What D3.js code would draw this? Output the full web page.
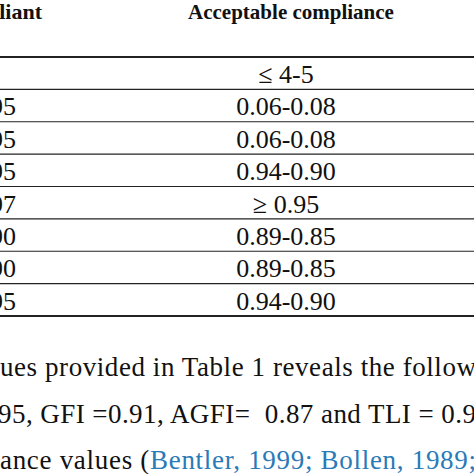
<!DOCTYPE html>
<html><head><meta charset="utf-8">
<script src="https://cdn.jsdelivr.net/npm/d3@7"></script>
<style>body{margin:0;background:#fff}svg{display:block}</style>
</head><body>
<script>
const headers = ["Good compliant", "Acceptable compliance"];
const good = ["", "0.95", "0.95", "0.95", "0.97", "0.90", "0.90", "0.95"];
const acceptable = ["\u2264 4-5", "0.06-0.08", "0.06-0.08", "0.94-0.90", "\u2265 0.95", "0.89-0.85", "0.89-0.85", "0.94-0.90"];
const paraLines = [
  [["ues provided in Table 1 reveals the follow", "#111"]],
  [["95, GFI =0.91, AGFI=\u00a0 0.87 and TLI = 0.9", "#111"]],
  [["ance values (", "#111"], ["Bentler, 1999; Bollen, 1989;", "#2a7ab8"]]
];

const W = 474, H = 474;
const svg = d3.select("body").append("svg").attr("width", W).attr("height", H);
const font = "'Liberation Serif','Times New Roman',serif";

const y = d3.scaleLinear().domain([0, 8]).range([57, 316]);
svg.append("text").attr("x", 42).attr("y", 19).attr("text-anchor", "end")
  .attr("font-family", font).attr("font-weight", "bold").attr("font-size", 22).attr("fill", "#111").text(headers[0]);
svg.append("text").attr("x", 291).attr("y", 19).attr("text-anchor", "middle")
  .attr("font-family", font).attr("font-weight", "bold").attr("font-size", 21).attr("fill", "#111").text(headers[1]);

d3.range(9).forEach(i => {
  svg.append("line").attr("x1", 0).attr("x2", W).attr("y1", y(i)).attr("y2", y(i))
    .attr("stroke", "#222").attr("stroke-width", (i === 0 || i === 8) ? 1.8 : 1.2);
});

good.forEach((v, i) => {
  svg.append("text").attr("x", 16).attr("y", y(i) + 26).attr("text-anchor", "end")
    .attr("font-family", font).attr("font-size", 26).attr("fill", "#111").text(v);
});
acceptable.forEach((v, i) => {
  svg.append("text").attr("x", 286).attr("y", y(i) + 26).attr("text-anchor", "middle")
    .attr("font-family", font).attr("font-size", 26).attr("fill", "#111").text(v);
});

const baselines = [376, 423, 469];
paraLines.forEach((segs, i) => {
  const t = svg.append("text").attr("x", i === 1 ? -2 : 0).attr("y", baselines[i])
    .attr("font-family", font).attr("font-size", 27).attr("fill", "#111")
    .attr("textLength", i === 1 ? 478 : 476).attr("lengthAdjust", "spacing");
  segs.forEach(s => t.append("tspan").attr("fill", s[1]).text(s[0]));
});
</script>
</body></html>
